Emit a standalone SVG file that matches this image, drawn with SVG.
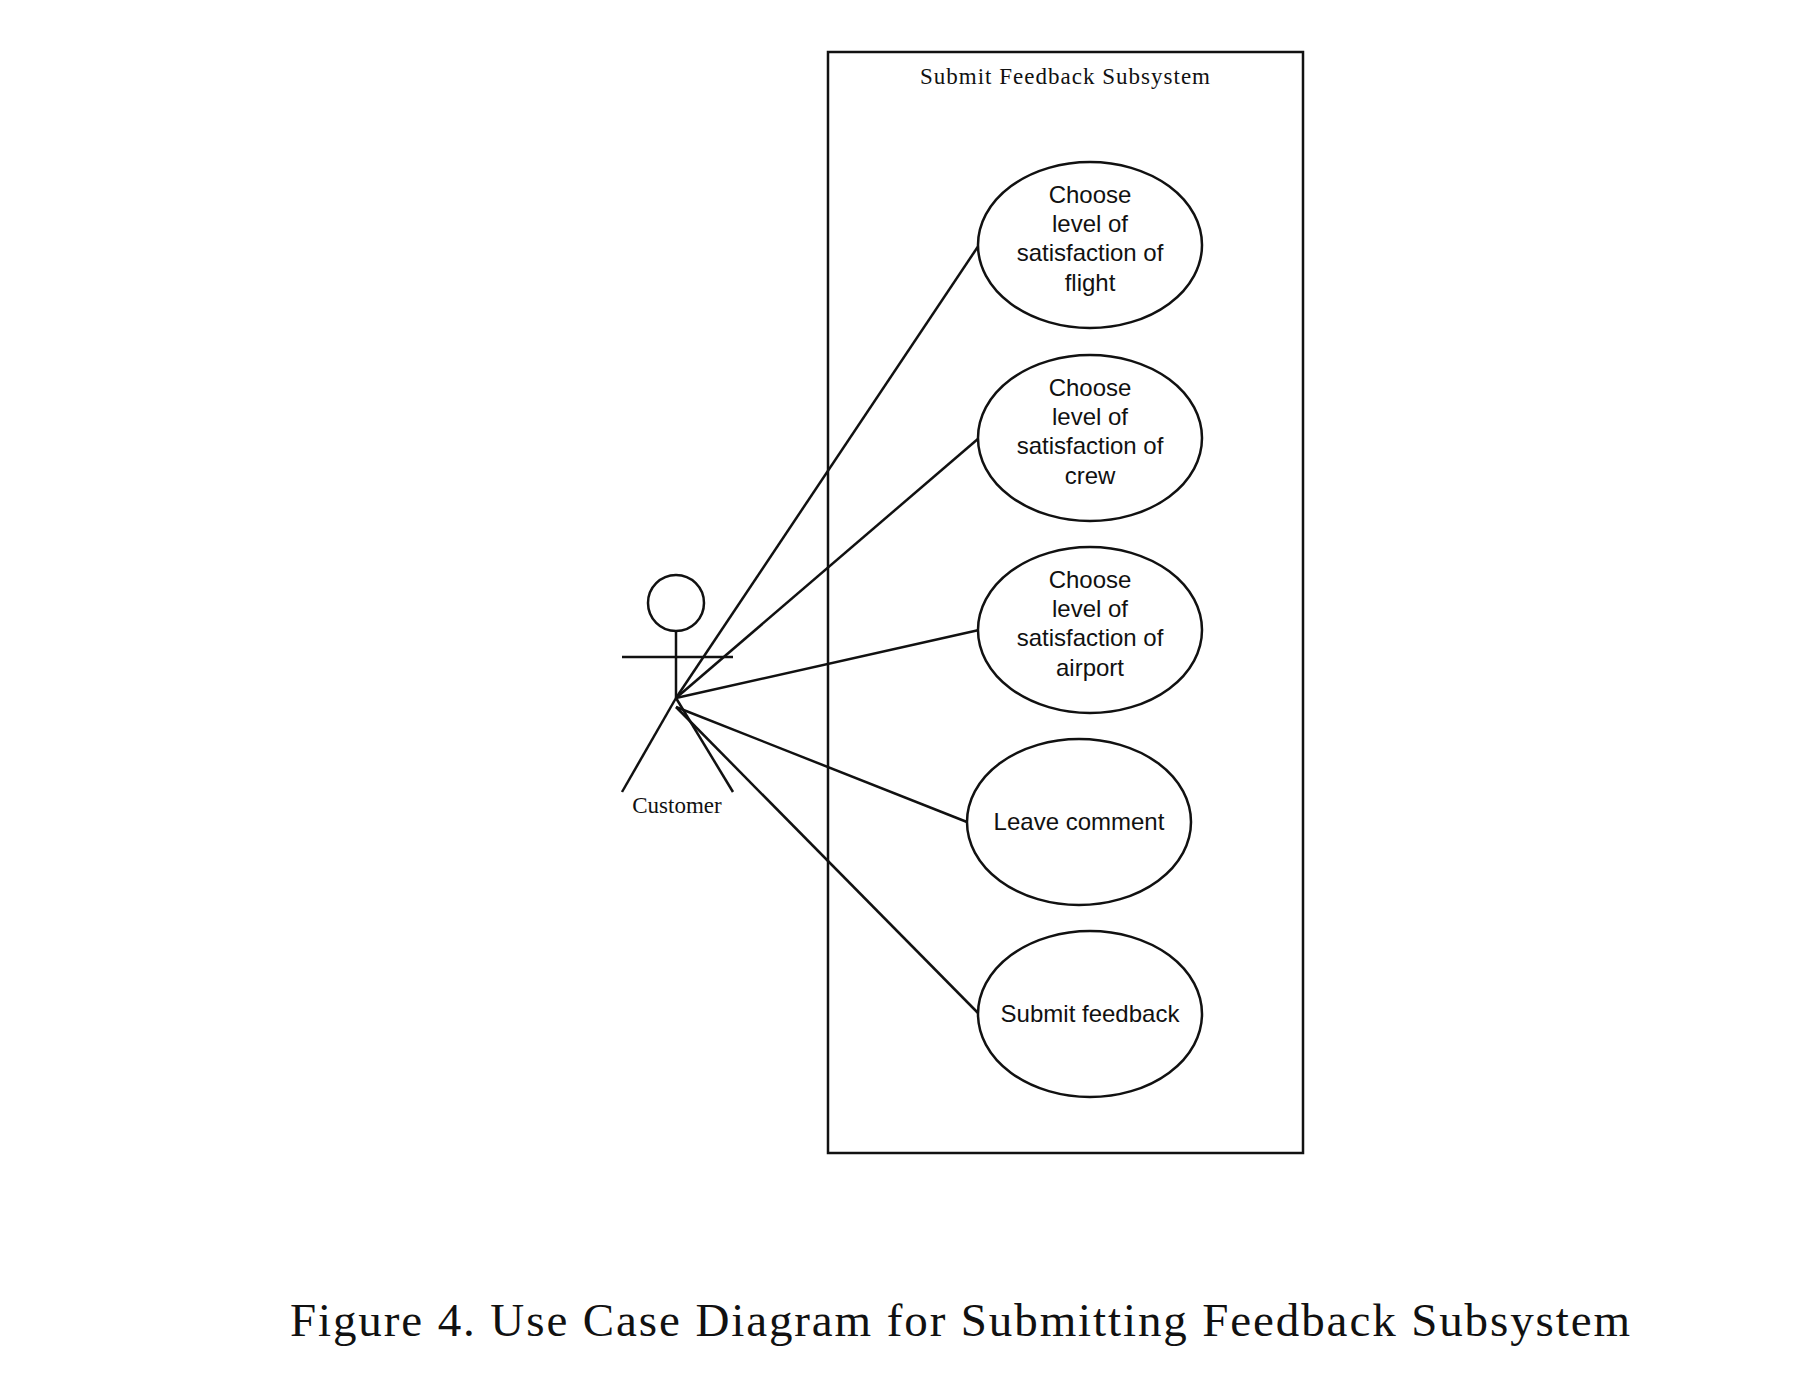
<svg xmlns="http://www.w3.org/2000/svg" width="1802" height="1376" viewBox="0 0 1802 1376">
<style>
.s{fill:none;stroke:#111;stroke-width:2.5}
.u{fill:#fff;stroke:#111;stroke-width:2.5}
.t{font-family:"Liberation Sans",Arial,sans-serif;font-size:24px;fill:#111;text-anchor:middle}
.sr{font-family:"Liberation Serif","Times New Roman",serif;fill:#111;text-anchor:middle}
</style>
<rect width="1802" height="1376" fill="#fff"/>
<g id="system"><rect class="s" x="828" y="52" width="475" height="1101"/>
<text class="sr" x="1065" y="84" font-size="23" textLength="290">Submit Feedback Subsystem</text></g>
<g id="connectors" class="s">
<line x1="676" y1="698" x2="979" y2="245"/>
<line x1="676" y1="698" x2="979" y2="438"/>
<line x1="676" y1="698" x2="979" y2="630"/>
<line x1="676" y1="707" x2="967" y2="822"/>
<line x1="676" y1="707" x2="979" y2="1014"/>
</g>
<g id="actor" class="s"><circle cx="676" cy="603" r="28"/>
<line x1="676" y1="631" x2="676" y2="698"/><line x1="622" y1="657" x2="733" y2="657"/>
<line x1="676" y1="698" x2="622" y2="792"/><line x1="676" y1="698" x2="733" y2="792"/>
<text class="sr" x="677" y="813" font-size="23" stroke="none">Customer</text></g>
<g id="uc1"><ellipse class="u" cx="1090" cy="245" rx="112" ry="83"/>
<text class="t" x="1090" y="203">Choose</text><text class="t" x="1090" y="232">level of</text><text class="t" x="1090" y="261">satisfaction of</text><text class="t" x="1090" y="291">flight</text></g>
<g id="uc2"><ellipse class="u" cx="1090" cy="438" rx="112" ry="83"/>
<text class="t" x="1090" y="396">Choose</text><text class="t" x="1090" y="425">level of</text><text class="t" x="1090" y="454">satisfaction of</text><text class="t" x="1090" y="484">crew</text></g>
<g id="uc3"><ellipse class="u" cx="1090" cy="630" rx="112" ry="83"/>
<text class="t" x="1090" y="588">Choose</text><text class="t" x="1090" y="617">level of</text><text class="t" x="1090" y="646">satisfaction of</text><text class="t" x="1090" y="676">airport</text></g>
<g id="uc4"><ellipse class="u" cx="1079" cy="822" rx="112" ry="83"/>
<text class="t" x="1079" y="830">Leave comment</text></g>
<g id="uc5"><ellipse class="u" cx="1090" cy="1014" rx="112" ry="83"/>
<text class="t" x="1090" y="1022">Submit feedback</text></g>
<text class="sr" x="960" y="1336" font-size="47" textLength="1340">Figure 4. Use Case Diagram for Submitting Feedback Subsystem</text>
</svg>
